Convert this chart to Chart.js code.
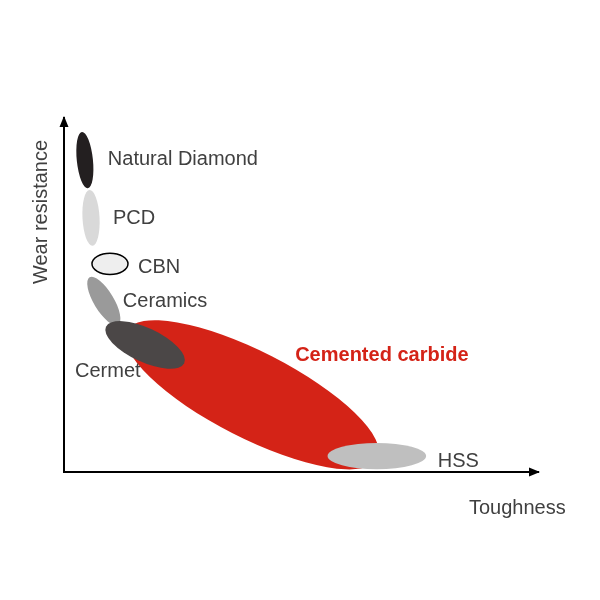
<!DOCTYPE html>
<html>
<head>
<meta charset="utf-8">
<script src="https://cdn.jsdelivr.net/npm/chart.js@4/dist/chart.umd.min.js"></script>
<style>
html,body{margin:0;padding:0;background:#fff;}
#wrap{width:600px;height:600px;position:relative;}
</style>
</head>
<body>
<div id="wrap"><canvas id="c" width="600" height="600"></canvas></div>
<script>
// ---- data (drawing order) ----
const materials = ['Natural Diamond', 'PCD', 'CBN', 'Ceramics', 'Cemented carbide', 'Cermet', 'HSS'];
const toughness = [4.4, 5.7, 9.7, 8.4, 39.7, 17.1, 66.0];          // ellipse centre, x
const wearResistance = [88.1, 71.8, 58.8, 48.3, 21.8, 35.9, 4.5];  // ellipse centre, y
const toughnessSpread = [1.7, 1.8, 3.8, 2.1, 29.7, 9.1, 10.4];     // half range along x
const wearSpread = [8.0, 7.9, 3.0, 7.8, 12.2, 4.8, 3.7];           // half range along y
const tilt = [-6, -3, 0, -31, 27, 25, 0];                           // degrees
const axisTitles = { x: 'Toughness', y: 'Wear resistance' };

// ---- styles ----
const styles = {
  'Natural Diamond': { fill: '#231f20', label: [23, 5] },
  'PCD': { fill: '#d9d9d9', label: [22, 6] },
  'CBN': { fill: '#eeeeee', stroke: '#000000', label: [28, 9] },
  'Ceramics': { fill: '#9a9a9a', label: [19, 6] },
  'Cemented carbide': { fill: '#d42317', label: [43, -34], color: '#d42317', bold: true },
  'Cermet': { fill: '#4b4747', label: [-70, 32] },
  'HSS': { fill: '#bfbfbf', label: [61, 11] }
};
const FONT = '"Liberation Sans", Arial, sans-serif';

const ellipsePlugin = {
  id: 'ellipses',
  beforeDatasetsDraw(chart) {
    const { ctx, scales: { x, y } } = chart;
    ctx.save();
    materials.forEach((m, i) => {
      const cx = x.getPixelForValue(toughness[i]);
      const cy = y.getPixelForValue(wearResistance[i]);
      const rx = Math.abs(x.getPixelForValue(toughness[i] + toughnessSpread[i]) - cx);
      const ry = Math.abs(y.getPixelForValue(wearResistance[i] + wearSpread[i]) - cy);
      const st = styles[m];
      ctx.beginPath();
      ctx.ellipse(cx, cy, rx, ry, tilt[i] * Math.PI / 180, 0, Math.PI * 2);
      ctx.fillStyle = st.fill;
      ctx.fill();
      if (st.stroke) {
        ctx.lineWidth = 1.5;
        ctx.strokeStyle = st.stroke;
        ctx.stroke();
      }
    });
    ctx.restore();
  },
  afterDraw(chart) {
    const { ctx, chartArea: a, scales: { x, y } } = chart;
    ctx.save();
    // labels
    materials.forEach((m, i) => {
      const st = styles[m];
      const cx = x.getPixelForValue(toughness[i]);
      const cy = y.getPixelForValue(wearResistance[i]);
      ctx.font = (st.bold ? 'bold ' : '') + '20px ' + FONT;
      ctx.fillStyle = st.color || '#404040';
      ctx.textAlign = 'left';
      ctx.textBaseline = 'alphabetic';
      ctx.fillText(m, cx + st.label[0], cy + st.label[1]);
    });
    // arrow heads
    ctx.fillStyle = '#000';
    ctx.beginPath();
    ctx.moveTo(a.right + 2, a.bottom);
    ctx.lineTo(a.right - 9, a.bottom - 4.5);
    ctx.lineTo(a.right - 9, a.bottom + 4.5);
    ctx.closePath();
    ctx.fill();
    ctx.beginPath();
    ctx.moveTo(a.left, a.top - 2);
    ctx.lineTo(a.left - 4.5, a.top + 9);
    ctx.lineTo(a.left + 4.5, a.top + 9);
    ctx.closePath();
    ctx.fill();
    // axis titles
    ctx.font = '20px ' + FONT;
    ctx.fillStyle = '#404040';
    ctx.textAlign = 'left';
    ctx.textBaseline = 'alphabetic';
    ctx.fillText(axisTitles.x, a.right - 69, a.bottom + 42);
    ctx.translate(a.left - 17, (a.top + a.bottom) / 2 - 83);
    ctx.rotate(-Math.PI / 2);
    ctx.textAlign = 'center';
    ctx.fillText(axisTitles.y, 0, 0);
    ctx.restore();
  }
};

new Chart(document.getElementById('c'), {
  type: 'scatter',
  data: {
    datasets: [{
      label: 'centres',
      data: materials.map((m, i) => ({ x: toughness[i], y: wearResistance[i] })),
      pointRadius: 0,
      pointHoverRadius: 0
    }]
  },
  options: {
    responsive: false,
    animation: false,
    events: [],
    layout: { padding: { left: 64, top: 118, right: 62, bottom: 128 } },
    plugins: { legend: { display: false }, tooltip: { enabled: false } },
    scales: {
      x: {
        min: 0, max: 100,
        grid: { display: false, drawTicks: false },
        ticks: { display: false },
        border: { display: true, color: '#000', width: 2 }
      },
      y: {
        min: 0, max: 100,
        grid: { display: false, drawTicks: false },
        ticks: { display: false },
        border: { display: true, color: '#000', width: 2 }
      }
    }
  },
  plugins: [ellipsePlugin]
});
</script>
</body>
</html>
